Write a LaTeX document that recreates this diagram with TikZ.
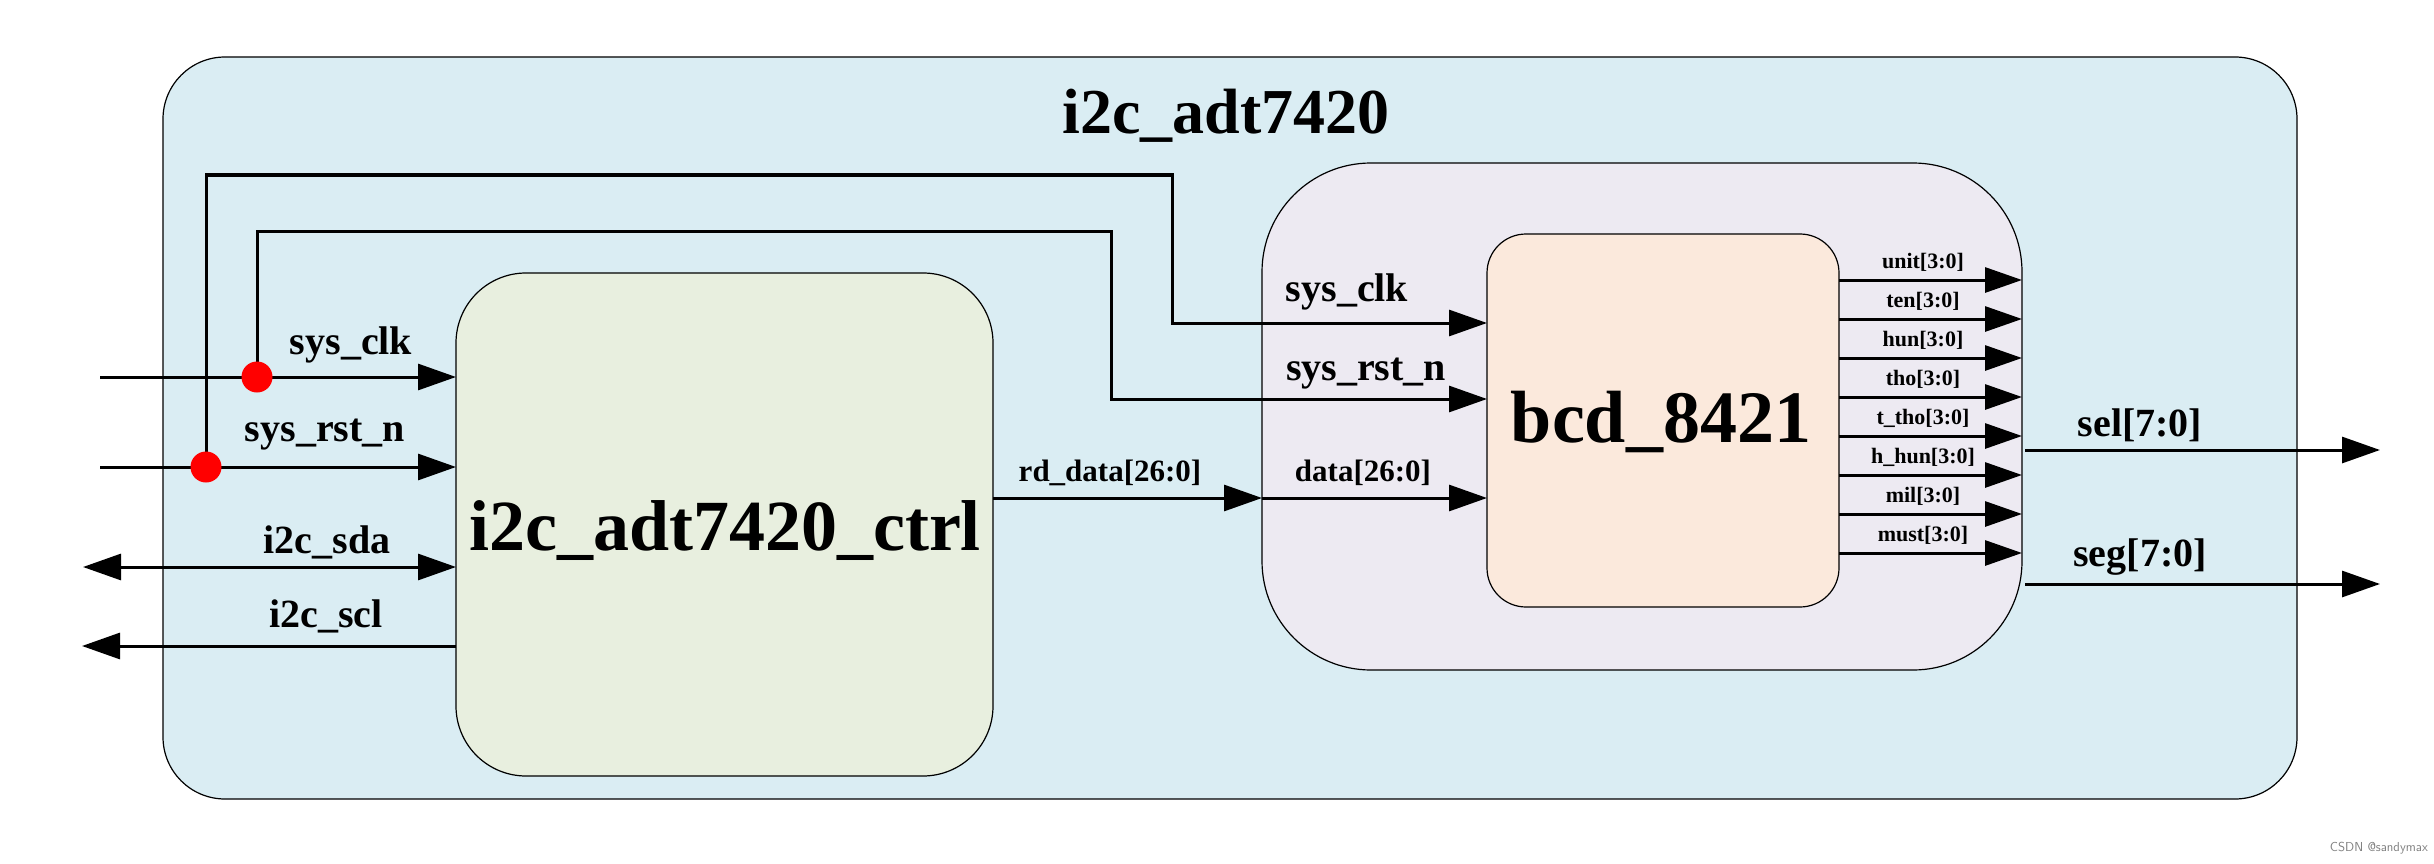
\documentclass[tikz,border=0pt]{standalone}
\usepackage{fontspec}
\setmainfont{Liberation Serif}
\usetikzlibrary{arrows.meta}
\definecolor{outerc}{HTML}{DAEDF3}
\definecolor{ctrlc}{HTML}{E8EFDF}
\definecolor{bcdo}{HTML}{EDEAF2}
\definecolor{bcdi}{HTML}{FBE9DC}
\begin{document}
\begin{tikzpicture}[x=1pt,y=-1pt,
  blk/.style={draw=black,line width=1.2pt},
  sig/.style={line width=3pt,-{Triangle[length=38pt,width=26pt]}},
  wire/.style={line width=3pt},
  lbl/.style={font=\bfseries\fontsize{40}{40}\selectfont,inner sep=0pt},
  slbl/.style={font=\bfseries\fontsize{22}{22}\selectfont,inner sep=0pt},
  dot/.style={circle,fill=red,minimum size=31pt,inner sep=0pt}]
\useasboundingbox (0,0) rectangle (2434,864);
\fill[white] (0,0) rectangle (2434,864);
\draw[blk,fill=outerc,rounded corners=62pt] (163,57) rectangle (2297,799);
\node[inner sep=0pt,font=\bfseries\fontsize{64}{64}\selectfont] (title) at (1226,116) {i2c\_adt7420};
\draw[blk,fill=ctrlc,rounded corners=70pt] (456,273) rectangle (993,776);
\node[inner sep=0pt,font=\bfseries\fontsize{72}{72}\selectfont] (ctrl) at (725,531) {i2c\_adt7420\_ctrl};
\draw[blk,fill=bcdo,rounded corners=109pt] (1262,163) rectangle (2022,670);
\draw[blk,fill=bcdi,rounded corners=39pt] (1487,234) rectangle (1839,607);
\node[inner sep=0pt,font=\bfseries\fontsize{74}{74}\selectfont] (bcd) at (1661,422) {bcd\_8421};
% anchors
\coordinate (inclk) at (100,377);
\coordinate (inrst) at (100,467);
\coordinate (dclk) at (257,377);
\coordinate (drst) at (206,467);
\coordinate (cclk) at (456,377);
\coordinate (crst) at (456,467);
\coordinate (csda) at (456,567);
\coordinate (osda) at (83,567);
\coordinate (cscl) at (456,646);
\coordinate (oscl) at (82,646);
\coordinate (bclk) at (1487,323);
\coordinate (brst) at (1487,399);
\coordinate (crd) at (993,498);
\coordinate (bod) at (1262,498);
\coordinate (bdata) at (1487,498);
\draw[wire] (inclk) -- (dclk);
\draw[sig] (dclk) -- (cclk);
\draw[wire] (inrst) -- (drst);
\draw[sig] (drst) -- (crst);
\draw[line width=3pt,{Triangle[length=38pt,width=26pt]}-{Triangle[length=38pt,width=26pt]}] (osda) -- (csda);
\draw[sig] (cscl) -- (oscl);
\draw[sig] (drst) |- (1172,175) |- (bclk);
\draw[sig] (dclk) |- (1111,231) |- (brst);
\node[dot] (nclk) at (dclk) {};
\node[dot] (nrst) at (drst) {};
\draw[sig] (crd) -- (bod);
\draw[sig] (bod) -- (bdata);
\node[lbl] (l1) at (351,345) {sys\_clk};
\node[lbl] (l2) at (325,435) {sys\_rst\_n};
\node[lbl] (l3) at (327,542) {i2c\_sda};
\node[lbl] (l4) at (326,616) {i2c\_scl};
\node[lbl,font=\bfseries\fontsize{31}{31}\selectfont] (l5) at (1110,473) {rd\_data[26:0]};
\node[lbl,font=\bfseries\fontsize{31}{31}\selectfont] (l6) at (1363,473) {data[26:0]};
\node[lbl] (l7) at (1347,292) {sys\_clk};
\node[lbl] (l8) at (1366,374) {sys\_rst\_n};
\foreach \y/\t [count=\i] in {280/unit[3:0],319/ten[3:0],358/hun[3:0],397/tho[3:0],436/t\_tho[3:0],475/h\_hun[3:0],514/mil[3:0],553/must[3:0]}{
  \coordinate (os\i) at (1839,\y);
  \coordinate (oe\i) at (2022,\y);
  \draw[line width=3pt,-{Triangle[length=37pt,width=25pt]}] (os\i) -- (oe\i);
  \node[slbl] (ol\i) at (1923,\y-18) {\t};
}
\coordinate (sels) at (2025,450);
\coordinate (sele) at (2380,450);
\coordinate (segs) at (2025,584);
\coordinate (sege) at (2380,584);
\draw[sig] (sels) -- (sele);
\draw[sig] (segs) -- (sege);
\node[lbl] (sel) at (2140,425) {sel[7:0]};
\node[lbl] (seg) at (2140,557) {seg[7:0]};
\node[anchor=east,text=gray,font=\fontsize{13}{13}\selectfont\sffamily,inner sep=0pt] (wm) at (2428,848) {CSDN @sandymax};
\end{tikzpicture}
\end{document}
